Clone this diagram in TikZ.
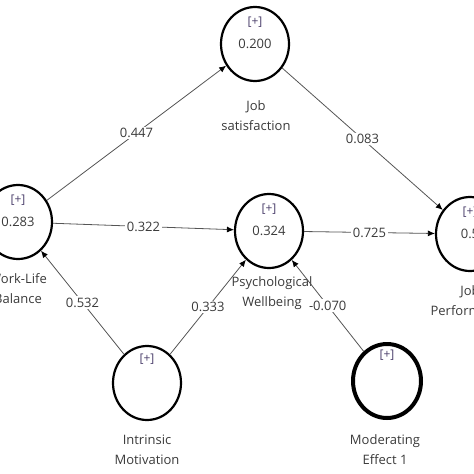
\documentclass[tikz,border=0pt]{standalone}
\usepackage{fontspec}
\setmainfont{Open Sans}
\usetikzlibrary{shapes.geometric,arrows.meta}
\definecolor{txtgray}{HTML}{3A3A3A}
\definecolor{signcol}{HTML}{4B3F6B}
\definecolor{linegray}{HTML}{555555}
\begin{document}
\begin{tikzpicture}[x=1pt,y=-1pt]
        \tikzstyle{latent} = [ellipse, draw=black, line width=2.2pt, minimum width=68pt, minimum height=74pt, inner sep=0pt, text=txtgray, font=\fontsize{13}{15}\selectfont]
        \tikzstyle{sign} = [inner sep=0pt, text=signcol, font=\fontsize{12}{14}\selectfont]
        \tikzstyle{caption} = [align=center, text=txtgray, font=\fontsize{13}{20}\selectfont]
        \tikzstyle{coef} = [fill=white, inner sep=1.5pt, text=txtgray, font=\fontsize{13}{15}\selectfont]
        \tikzstyle{arrow} = [draw=linegray, line width=0.8pt, -{Latex[length=7pt,width=6pt,color=black]}]

        \useasboundingbox (0,0) rectangle (474,474);

        \node (wlb) [latent] at (18,222) {0.283};
        \node (js) [latent] at (255,44) {0.200};
        \node (pw) [latent] at (269,231) {0.324};
        \node (jp) [latent] at (470,234) {0.5};
        \node (im) [latent] at (147,383) {};
        \node (me) [latent, line width=4pt] at (387,381) {};

        \node (wlbsign) [sign] at ([yshift=22pt]wlb.center) {[+]};
        \node (jssign) [sign] at ([yshift=22pt]js.center) {[+]};
        \node (pwsign) [sign] at ([yshift=22pt]pw.center) {[+]};
        \node (jpsign) [sign] at ([yshift=22pt]jp.center) {[+]};
        \node (imsign) [sign] at ([yshift=24pt]im.center) {[+]};
        \node (mesign) [sign] at ([yshift=26pt]me.center) {[+]};

        \node (wlbcap) [caption] at (18,289) {Work-Life\\Balance};
        \node (jscap) [caption] at (256,116) {Job\\satisfaction};
        \node (pwcap) [caption] at (272,293) {Psychological\\Wellbeing};
        \node (jpcap) [caption] at (470,301) {Job\\Performance};
        \node (imcap) [caption] at (147,450) {Intrinsic\\Motivation};
        \node (mecap) [caption] at (385,450) {Moderating\\Effect 1};

        \draw [arrow] (wlb) -- node[coef] {0.447} (js);
        \draw [arrow] (js) -- node[coef] {0.083} (jp);
        \draw [arrow] (wlb) -- node[coef] {0.322} (pw);
        \draw [arrow] (pw) -- node[coef] {0.725} (jp);
        \draw [arrow] (im) -- node[coef] {0.532} (wlb);
        \draw [arrow] (im) -- node[coef] {0.333} (pw);
        \draw [arrow] (me) -- node[coef] {-0.070} (pw);
    \end{tikzpicture}
\end{document}
